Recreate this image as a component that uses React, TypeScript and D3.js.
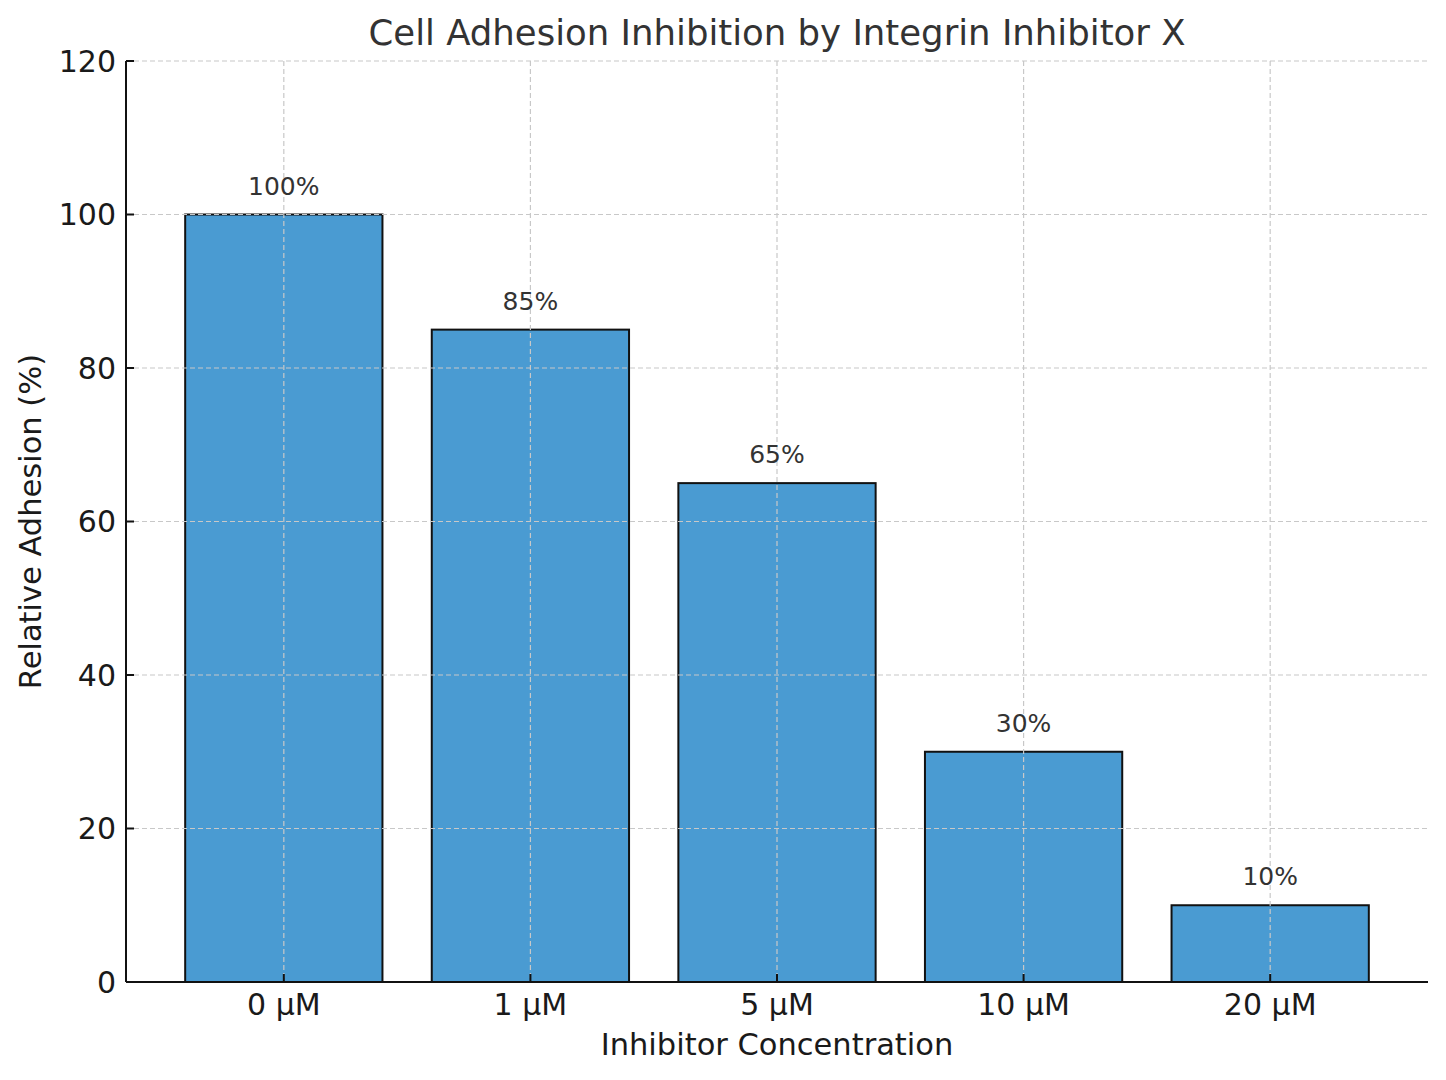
import React, { useEffect, useRef } from 'react';
import * as d3 from 'd3';

// chart values
const concentrations = ['0 µM', '1 µM', '5 µM', '10 µM', '20 µM'];
const adhesion = [100, 85, 65, 30, 10];
const yTicks = [0, 20, 40, 60, 80, 100, 120];

const W = 1446;
const H = 1080;
const FONT = 'DejaVu Sans, sans-serif';

export default function App() {
  const ref = useRef<SVGSVGElement>(null);

  useEffect(() => {
    const svg = d3.select(ref.current);
    svg.selectAll('*').remove();

    const left = 126, right = 1428, top = 61, bottom = 982;

    // matplotlib style band: bar width 0.8 with 5% margins
    const n = concentrations.length;
    const lo = -0.4 - 0.05 * (n - 1 + 0.8);
    const hi = n - 1 + 0.4 + 0.05 * (n - 1 + 0.8);
    const x = d3.scaleLinear().domain([lo, hi]).range([left, right]);
    const y = d3.scaleLinear().domain([0, 120]).range([bottom, top]);
    const barW = x(0.8) - x(0);

    svg.append('rect').attr('width', W).attr('height', H).attr('fill', '#fff');

    // bars
    svg.append('g')
      .selectAll('rect')
      .data(adhesion)
      .join('rect')
      .attr('x', (_, i) => x(i) - barW / 2)
      .attr('y', d => y(d))
      .attr('width', barW)
      .attr('height', d => y(0) - y(d))
      .attr('fill', '#4a9bd2')
      .attr('stroke', '#111')
      .attr('stroke-width', 2);

    // grid on top of bars
    const grid = svg.append('g')
      .attr('stroke', '#c8c8c8')
      .attr('stroke-width', 1.2)
      .attr('stroke-dasharray', '5,3');
    grid.selectAll('line.h')
      .data(yTicks.filter(t => t > 0))
      .join('line')
      .attr('class', 'h')
      .attr('x1', left).attr('x2', right)
      .attr('y1', d => y(d)).attr('y2', d => y(d));
    grid.selectAll('line.v')
      .data(concentrations)
      .join('line')
      .attr('class', 'v')
      .attr('x1', (_, i) => x(i)).attr('x2', (_, i) => x(i))
      .attr('y1', top).attr('y2', bottom);

    // spines
    svg.append('line')
      .attr('x1', left).attr('x2', left).attr('y1', top).attr('y2', bottom)
      .attr('stroke', '#111').attr('stroke-width', 2);
    svg.append('line')
      .attr('x1', left).attr('x2', right).attr('y1', bottom).attr('y2', bottom)
      .attr('stroke', '#111').attr('stroke-width', 2);

    // y ticks (inward)
    const yt = svg.append('g');
    yt.selectAll('line')
      .data(yTicks)
      .join('line')
      .attr('x1', left).attr('x2', left + 8)
      .attr('y1', d => y(d)).attr('y2', d => y(d))
      .attr('stroke', '#111').attr('stroke-width', 2);
    yt.selectAll('text')
      .data(yTicks)
      .join('text')
      .attr('x', left - 10)
      .attr('y', d => y(d))
      .attr('dy', '0.36em')
      .attr('text-anchor', 'end')
      .attr('font-family', FONT)
      .attr('font-size', 30)
      .attr('fill', '#1a1a1a')
      .text(d => d);

    // x ticks (inward)
    const xt = svg.append('g');
    xt.selectAll('line')
      .data(concentrations)
      .join('line')
      .attr('x1', (_, i) => x(i)).attr('x2', (_, i) => x(i))
      .attr('y1', bottom).attr('y2', bottom - 8)
      .attr('stroke', '#111').attr('stroke-width', 2);
    xt.selectAll('text')
      .data(concentrations)
      .join('text')
      .attr('x', (_, i) => x(i))
      .attr('y', bottom + 33)
      .attr('text-anchor', 'middle')
      .attr('font-family', FONT)
      .attr('font-size', 30)
      .attr('fill', '#1a1a1a')
      .text(d => d);

    // value labels
    svg.append('g')
      .selectAll('text')
      .data(adhesion)
      .join('text')
      .attr('x', (_, i) => x(i))
      .attr('y', d => y(d) - 20)
      .attr('text-anchor', 'middle')
      .attr('font-family', FONT)
      .attr('font-size', 25)
      .attr('fill', '#333')
      .text(d => `${d}%`);

    // titles
    svg.append('text')
      .attr('x', (left + right) / 2)
      .attr('y', 45)
      .attr('text-anchor', 'middle')
      .attr('font-family', FONT)
      .attr('font-size', 35.5)
      .attr('fill', '#333')
      .text('Cell Adhesion Inhibition by Integrin Inhibitor X');

    svg.append('text')
      .attr('x', (left + right) / 2)
      .attr('y', 1055)
      .attr('text-anchor', 'middle')
      .attr('font-family', FONT)
      .attr('font-size', 30.5)
      .attr('fill', '#1a1a1a')
      .text('Inhibitor Concentration');

    svg.append('text')
      .attr('transform', `translate(41,${(top + bottom) / 2}) rotate(-90)`)
      .attr('text-anchor', 'middle')
      .attr('font-family', FONT)
      .attr('font-size', 30.5)
      .attr('fill', '#1a1a1a')
      .text('Relative Adhesion (%)');
  }, []);

  return (
    <svg ref={ref} width={W} height={H} style={{ display: 'block', position: 'absolute', left: 0, top: 0 }} />
  );
}
